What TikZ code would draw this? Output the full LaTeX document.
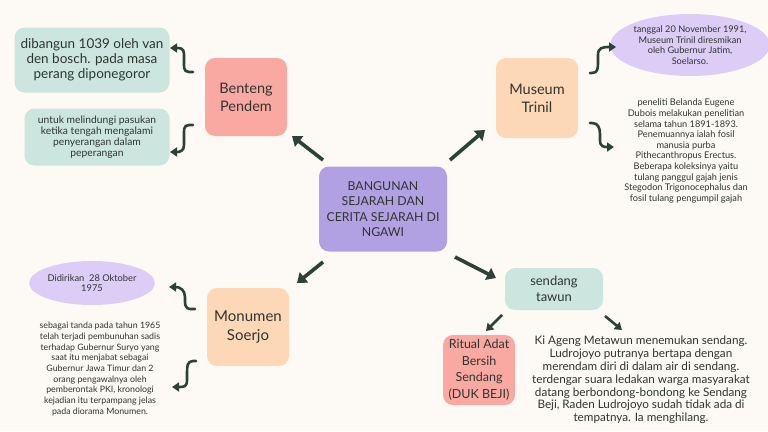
\documentclass[tikz,border=0pt]{standalone}
\usepackage{fontspec}
\setmainfont{Lato}
\usetikzlibrary{arrows.meta}
\definecolor{bg}{HTML}{FDF9F5}
\definecolor{ink}{HTML}{2C4238}
\definecolor{txt}{HTML}{2F3530}
\definecolor{purp}{HTML}{B2A1E2}
\definecolor{lpurp}{HTML}{DCCDF7}
\definecolor{pink}{HTML}{F9A9A1}
\definecolor{peach}{HTML}{FCD8B6}
\definecolor{mint}{HTML}{CCE6DF}
\tikzset{
  box/.style={rounded corners=10pt, inner sep=0pt, align=center, text=txt},
  blob/.style={ellipse, inner sep=0pt, align=center, text=txt, fill=lpurp},
  plain/.style={align=center, text=txt, inner sep=0pt},
  bigarrow/.style={draw=ink, line width=3.6pt, -{Triangle[length=9pt,width=13pt]}},
  curly/.style={draw=ink, line width=2.6pt, line cap=round, -{Triangle[length=7pt,width=9pt]}},
  thin/.style={draw=ink, line width=2.6pt, -{Triangle[length=7pt,width=9pt]}},
}
\usetikzlibrary{shapes.geometric}
\begin{document}
\begin{tikzpicture}[x=1pt,y=-1pt]
\fill[bg] (0,0) rectangle (768,431);
\useasboundingbox (0,0) rectangle (768,431);

% center
\node[box, fill=purp, minimum width=128pt, minimum height=85pt, font=\fontsize{12.3}{15.5}\selectfont] (c) at (383,209)
  {BANGUNAN\\SEJARAH DAN\\CERITA SEJARAH DI\\NGAWI};

% main boxes
\node[box, fill=pink, minimum width=82pt, minimum height=78pt, font=\fontsize{14.5}{18}\selectfont] (bp) at (246,97) {Benteng\\Pendem};
\node[box, fill=peach, minimum width=82pt, minimum height=80pt, font=\fontsize{14.5}{18}\selectfont] (mt) at (537,98) {Museum\\Trinil};
\node[box, fill=peach, minimum width=82pt, minimum height=78pt, font=\fontsize{15}{19}\selectfont] (ms) at (248,327) {Monumen\\Soerjo};
\node[box, fill=mint, minimum width=98pt, minimum height=42pt, font=\fontsize{13}{16}\selectfont] (st) at (554,289) {sendang\\tawun};
\node[box, fill=pink, minimum width=72pt, minimum height=70pt, font=\fontsize{12.5}{16.5}\selectfont] (ra) at (479,370) {Ritual Adat\\Bersih\\Sendang\\(DUK BEJI)};

% left boxes
\node[box, fill=mint, minimum width=155pt, minimum height=65pt, font=\fontsize{13.5}{15}\selectfont] (t1) at (92,60) {dibangun 1039 oleh van\\den bosch. pada masa\\perang diponegoror};
\node[box, fill=mint, minimum width=145pt, minimum height=57pt, font=\fontsize{10.3}{11}\selectfont] (t2) at (97,137) {untuk melindungi pasukan\\ketika tengah mengalami\\penyerangan dalam\\peperangan};

% right top
\node[blob, minimum width=146pt, minimum height=62pt, font=\fontsize{9.2}{10.5}\selectfont] (e1) at (690,45) {tanggal 20 November 1991,\\Museum Trinil diresmikan\\oleh Gubernur Jatim,\\Soelarso.};
\node[plain, font=\fontsize{9.2}{10.6}\selectfont] (t3) at (686,151) {peneliti Belanda Eugene\\Dubois melakukan penelitian\\selama tahun 1891-1893.\\Penemuannya ialah fosil\\manusia purba\\Pithecanthropus Erectus.\\Beberapa koleksinya yaitu\\tulang panggul gajah jenis\\Stegodon Trigonocephalus dan\\fosil tulang pengumpil gajah};

% left bottom
\node[blob, minimum width=124pt, minimum height=44pt, font=\fontsize{9.3}{10.5}\selectfont] (e2) at (92,283) {Didirikan\ \ 28 Oktober\\1975};
\node[plain, font=\fontsize{8.8}{10.7}\selectfont] (t4) at (100,369) {sebagai tanda pada tahun 1965\\telah terjadi pembunuhan sadis\\terhadap Gubernur Suryo yang\\saat itu menjabat sebagai\\Gubernur Jawa Timur dan 2\\orang pengawalnya oleh\\pemberontak PKI, kronologi\\kejadian itu terpampang jelas\\pada diorama Monumen.};

% bottom right
\node[plain, font=\fontsize{11.7}{12.8}\selectfont] (t5) at (641,380) {Ki Ageng Metawun menemukan sendang.\\Ludrojoyo putranya bertapa dengan\\merendam diri di dalam air di sendang.\\terdengar suara ledakan warga masyarakat\\datang berbondong-bondong ke Sendang\\Beji, Raden Ludrojoyo sudah tidak ada di\\tempatnya. Ia menghilang.};

% main arrows
\coordinate (a1) at (323,160); \coordinate (a2) at (450,160);
\coordinate (a3) at (323,262); \coordinate (a4) at (455,257);
\draw[bigarrow] (a1) -- (292,136);
\draw[bigarrow] (a2) -- (485,130);
\draw[bigarrow] (a3) -- (297,283);
\draw[bigarrow] (a4) -- (496,278);

% curly arrows
\draw[curly] (193,72) -- (189,72) .. controls (183,72) and (184,66) .. (184,60) -- (184,54) .. controls (184,48) and (180,48) .. (170,48);
\draw[curly] (193,125) -- (189,125) .. controls (183,125) and (184,131) .. (184,137) -- (184,145) .. controls (184,151) and (180,152) .. (170,152);
\draw[curly] (590,73) -- (592,73) .. controls (598,73) and (598,68) .. (598,62) -- (598,55) .. controls (598,48) and (602,47) .. (616,47);
\draw[curly] (590,123) -- (592,123) .. controls (598,123) and (600,128) .. (600,134) -- (600,140) .. controls (600,147) and (604,147) .. (614,147);
\draw[curly] (195,309) -- (191,309) .. controls (184,309) and (185,303) .. (185,297) .. controls (185,290) and (180,287) .. (169,287);
\draw[curly] (196,361) -- (193,361) .. controls (187,361) and (187,367) .. (187,373) -- (187,380) .. controls (187,387) and (184,387) .. (172,387);

% sendang arrows
\draw[thin] (502,315) -- (486,331);
\draw[thin] (605,316) -- (622,330);
\end{tikzpicture}
\end{document}
